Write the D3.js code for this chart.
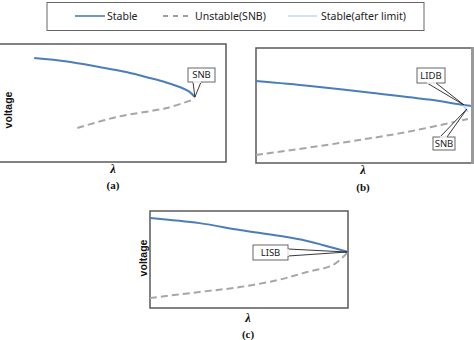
<!DOCTYPE html>
<html><head><meta charset="utf-8">
<script src="https://cdn.jsdelivr.net/npm/d3@7"></script>
<style>body{margin:0;background:#fff;}svg{display:block;}</style>
</head><body>
<svg id="c" width="474" height="340"></svg>
<script>
// ---- data (normalised λ and voltage) ----
const legendLabels = ["Stable", "Unstable(SNB)", "Stable(after limit)"];
const panelLabels = ["(a)", "(b)", "(c)"];
const calloutLabels = ["SNB", "LIDB", "SNB", "LISB"];

const lamA_stable = [0.155, 0.30, 0.442, 0.56, 0.664, 0.74, 0.796, 0.835, 0.863];
const volA_stable = [0.881, 0.852, 0.805, 0.762, 0.712, 0.672, 0.636, 0.600, 0.550];
const lamA_unstable = [0.345, 0.518, 0.739, 0.863];
const volA_unstable = [0.288, 0.381, 0.458, 0.534];

const lamB_stable = [0.0, 0.25, 0.542, 0.80, 0.963, 1.0];
const volB_stable = [0.713, 0.670, 0.609, 0.552, 0.504, 0.496];
const lamB_after = [0.958, 0.972, 0.981];
const volB_after = [0.504, 0.470, 0.443];
const lamB_unstable = [0.0, 0.389, 0.699, 0.981];
const volB_unstable = [0.070, 0.174, 0.270, 0.383];

const lamC_stable = [0.0, 0.25, 0.4545, 0.65, 0.793, 1.0];
const volC_stable = [0.928, 0.875, 0.804, 0.745, 0.691, 0.577];
const lamC_unstable = [0.0, 0.25, 0.4545, 0.65, 0.793, 0.924, 1.0];
const volC_unstable = [0.103, 0.165, 0.216, 0.290, 0.371, 0.443, 0.577];

// ---- styles ----
const BLUE = "#4a7ebb", GRAY = "#a6a6a6", LIGHT = "#c6d9f0", FRAME = "#5a5a5a";
const svg = d3.select("#c");

// legend
const lg = svg.append("g");
lg.append("rect").attr("x", 47).attr("y", 2.5).attr("width", 377).attr("height", 28)
  .attr("fill", "#fff").attr("stroke", "#666").attr("stroke-width", 1);
const legItems = [
  {x1: 75, x2: 105, tx: 107, color: BLUE, dash: null},
  {x1: 163, x2: 193, tx: 195, color: "#7f7f7f", dash: "5,5"},
  {x1: 288, x2: 317, tx: 321, color: LIGHT, dash: null}
];
legItems.forEach((it, i) => {
  lg.append("line").attr("x1", it.x1).attr("x2", it.x2).attr("y1", 16).attr("y2", 16)
    .attr("stroke", it.color).attr("stroke-width", 1.6).attr("stroke-dasharray", it.dash);
  lg.append("text").attr("x", it.tx).attr("y", 20).text(legendLabels[i])
    .attr("font-family", "Noto Sans, sans-serif").attr("font-size", 10.5).attr("fill", "#222");
});

function zip(a, b) { return a.map((v, i) => [v, b[i]]); }

const panels = [
  {x0: -1, x1: 226, y0: 44, y1: 162, ylab: [8, 110], lam: [113, 173], lab: [113, 189],
   series: [
     {d: zip(lamA_unstable, volA_unstable), c: GRAY, dash: "7,4"},
     {d: zip(lamA_stable, volA_stable), c: BLUE}
   ]},
  {x0: 256, x1: 472, y0: 48, y1: 163, ylab: null, lam: [363, 174], lab: [363, 191],
   series: [
     {d: zip(lamB_unstable, volB_unstable), c: GRAY, dash: "7,4"},
     {d: zip(lamB_stable, volB_stable), c: BLUE},
     {d: zip(lamB_after, volB_after), c: LIGHT}
   ]},
  {x0: 150, x1: 348, y0: 211, y1: 308, ylab: [143, 258], lam: [248, 322], lab: [248, 338],
   series: [
     {d: zip(lamC_unstable, volC_unstable), c: GRAY, dash: "7,4"},
     {d: zip(lamC_stable, volC_stable), c: BLUE}
   ]}
];

const scales = [];
panels.forEach((p, i) => {
  const x = d3.scaleLinear().domain([0, 1]).range([p.x0, p.x1]);
  const y = d3.scaleLinear().domain([0, 1]).range([p.y1, p.y0]);
  scales.push({x, y});
  const g = svg.append("g");
  g.append("rect").attr("x", p.x0).attr("y", p.y0).attr("width", p.x1 - p.x0).attr("height", p.y1 - p.y0)
    .attr("fill", "#fff").attr("stroke", FRAME).attr("stroke-width", 1.5);
  const lineX = d3.line().x(d => x(d[0])).y(d => y(d[1])).curve(d3.curveCatmullRom);
  p.series.forEach(s => {
    g.append("path").attr("d", lineX(s.d)).attr("fill", "none").attr("stroke", s.c)
      .attr("stroke-width", 2).attr("stroke-dasharray", s.dash || null);
  });
  if (p.ylab) {
    svg.append("text").attr("transform", `translate(${p.ylab[0]},${p.ylab[1]}) rotate(-90)`)
      .attr("text-anchor", "middle").attr("dy", "0.35em")
      .attr("font-family", "Liberation Sans, Arial, sans-serif").attr("font-weight", "bold")
      .attr("font-size", 10.5).attr("fill", "#111").text("voltage");
  }
  svg.append("text").attr("x", p.lam[0]).attr("y", p.lam[1]).attr("text-anchor", "middle")
    .attr("font-family", "Liberation Serif, serif").attr("font-weight", "bold").attr("font-style", "italic")
    .attr("font-size", 12.5).attr("fill", "#111").text("λ");
  svg.append("text").attr("x", p.lab[0]).attr("y", p.lab[1]).attr("text-anchor", "middle")
    .attr("font-family", "Liberation Serif, serif").attr("font-weight", "bold")
    .attr("font-size", 11).attr("fill", "#111").text(panelLabels[i]);
});
// gray band on right edge of panel (b)
svg.append("rect").attr("x", 471).attr("y", 47).attr("width", 3).attr("height", 117).attr("fill", "#9a9a9a");

// callouts: box + wedge pointing to a data point
function callout(label, bx, by, bw, bh, w1, w2, tip) {
  const g = svg.append("g");
  g.append("path").attr("d", `M${w1[0]},${w1[1]}L${tip[0]},${tip[1]}L${w2[0]},${w2[1]}`)
    .attr("fill", "#fff").attr("stroke", "#222").attr("stroke-width", 0.9);
  g.append("rect").attr("x", bx).attr("y", by).attr("width", bw).attr("height", bh)
    .attr("fill", "#fff").attr("stroke", "#666").attr("stroke-width", 1);
  g.append("path").attr("d", `M${w1[0]},${w1[1]}L${w2[0]},${w2[1]}`).attr("stroke", "#fff").attr("stroke-width", 1.5);
  g.append("text").attr("x", bx + bw / 2).attr("y", by + bh / 2).attr("dy", "0.36em")
    .attr("text-anchor", "middle").attr("font-family", "Noto Sans, sans-serif").attr("font-size", 9.5)
    .attr("fill", "#222").text(label);
}
const sA = scales[0], sB = scales[1], sC = scales[2];
const nA = lamA_stable.length - 1;
callout(calloutLabels[0], 188, 68, 27, 14, [193, 82], [201, 82],
  [sA.x(lamA_stable[nA]), sA.y(volA_stable[nA])]);
callout(calloutLabels[1], 417, 68, 28, 15, [427, 83], [436, 83],
  [sB.x(lamB_stable[4]), sB.y(volB_stable[4])]);
callout(calloutLabels[2], 433, 137, 22, 13, [440, 137], [447, 137],
  [sB.x(lamB_unstable[3]) - 1, sB.y(volB_after[1])]);
callout(calloutLabels[3], 253, 245, 35, 15, [288, 249], [288, 256],
  [sC.x(lamC_stable[5]) - 1, sC.y(volC_stable[5])]);
</script>
</body></html>
